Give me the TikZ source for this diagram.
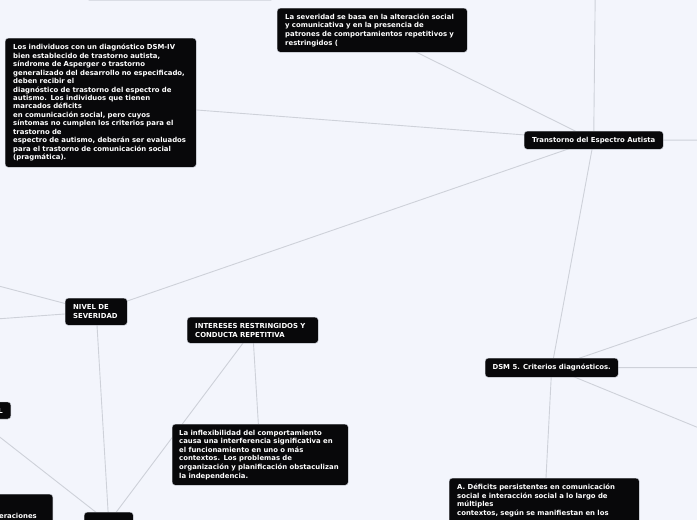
\documentclass[tikz,border=0pt]{standalone}
\usepackage{fontspec}
\setmainfont{DejaVu Sans}
\usetikzlibrary{backgrounds}
\definecolor{bgc}{RGB}{243,245,252}
\definecolor{edgec}{RGB}{206,209,217}
\definecolor{boxc}{RGB}{8,8,10}
\definecolor{boxrim}{RGB}{190,193,202}
\newcommand\ml[1]{\mbox{#1}}
\tikzset{
  box/.style={rectangle, rounded corners=3pt, fill=boxc, draw=boxrim, line width=0.4pt,
    text=white, font=\fontsize{6.9}{8.6}\selectfont\bfseries, align=left,
    inner xsep=8pt, inner ysep=0pt, anchor=north west},
  link/.style={draw=edgec, line width=0.9pt}
}
\begin{document}
\begin{tikzpicture}[x=1pt,y=-1pt]
\begin{pgfonlayer}{background}
\fill[bgc] (0,0) rectangle (697,520);
\end{pgfonlayer}
\useasboundingbox (0,0) rectangle (697,520);

% faint box just above the top edge
\draw[draw=edgec, fill=bgc, rounded corners=3pt] (87,-40) rectangle (273,0.6);

% nodes
\node[box, minimum width=191pt, minimum height=129pt, text width=175pt,
      font=\fontsize{6.9}{8.45}\selectfont\bfseries] (indiv) at (5,38) {%
\ml{Los individuos con un diagnóstico DSM-IV}\\
\ml{bien establecido de trastorno autista,}\\
\ml{síndrome de Asperger o trastorno}\\
\ml{generalizado del desarrollo no especificado,}\\
\ml{deben recibir el}\\
\ml{diagnóstico de trastorno del espectro de}\\
\ml{autismo. Los individuos que tienen}\\
\ml{marcados déficits}\\
\ml{en comunicación social, pero cuyos}\\
\ml{síntomas no cumplen los criterios para el}\\
\ml{trastorno de}\\
\ml{espectro de autismo, deberán ser evaluados}\\
\ml{para el trastorno de comunicación social}\\
\ml{(pragmática).}};

\node[box, minimum width=190pt, minimum height=44pt, text width=174pt] (sev) at (277,8) {%
\ml{La severidad se basa en la alteración social}\\
\ml{y comunicativa y en la presencia de}\\
\ml{patrones de comportamientos repetitivos y}\\
\ml{restringidos (}};

\node[box, minimum width=139pt, minimum height=18pt, inner xsep=0pt] (tea) at (524,131)
  {Transtorno del Espectro Autista};

\node[box, minimum width=62pt, minimum height=27pt, text width=46pt] (nivel) at (65,298) {%
\ml{NIVEL DE}\\ \ml{SEVERIDAD}};

\node[box, minimum width=131pt, minimum height=26pt, text width=115pt] (inter) at (187,317) {%
\ml{INTERESES RESTRINGIDOS Y}\\ \ml{CONDUCTA REPETITIVA}};

\node[box, minimum width=176pt, minimum height=61pt, text width=162pt, inner xsep=7pt] (inflex) at (172,424) {%
\ml{La inflexibilidad del comportamiento}\\
\ml{causa una interferencia significativa en}\\
\ml{el funcionamiento en uno o más}\\
\ml{contextos. Los problemas de}\\
\ml{organización y planificación obstaculizan}\\
\ml{la independencia.}};

\node[box, minimum width=133pt, minimum height=19pt, inner xsep=0pt] (dsm) at (485,358)
  {DSM 5. Criterios diagnósticos.};

\node[box, minimum width=190pt, text width=174pt, inner ysep=6pt] (defic) at (449,478) {%
\ml{A. Déficits persistentes en comunicación}\\
\ml{social e interacción social a lo largo de}\\
\ml{múltiples}\\
\ml{contextos, según se manifiestan en los}\\
~\\ ~\\ ~};

% partial boxes at the edges
\node[box, anchor=east, minimum width=90pt, minimum height=17pt, text width=74pt, align=right] (ipart) at (11,410.5) {L};
\node[box, anchor=north east, minimum width=150pt, minimum height=60pt, text width=118pt, align=right,
      inner xsep=16pt, inner ysep=15pt] (jpart) at (53,494) {eraciones\\ ~\\ ~};
\node[box, minimum width=49pt, minimum height=20pt] (kpart) at (84,512) {};

% free ends of connectors leaving the frame
\coordinate (cTop) at (596,-80);
\coordinate (cRight) at (760,140);
\coordinate (dL1) at (-100,260);
\coordinate (dL2) at (-100,326);
\coordinate (g1) at (760,296);
\coordinate (g2) at (760,367.5);
\coordinate (g3) at (760,453);

\begin{pgfonlayer}{background}
\draw[link] (tea.center) -- (indiv.center);
\draw[link] (tea.center) -- (sev.center);
\draw[link] (tea.center) -- (cTop);
\draw[link] (tea.center) -- (cRight);
\draw[link] (tea.center) -- (nivel.center);
\draw[link] (tea.center) -- (dsm.center);
\draw[link] (nivel.center) -- (dL1);
\draw[link] (nivel.center) -- (dL2);
\draw[link] (nivel.center) -- (kpart.center);
\draw[link] (inter.center) -- (inflex.center);
\draw[link] (inter.center) -- (kpart.center);
\draw[link] (ipart.center) -- (kpart.center);
\draw[link] (dsm.center) -- (g1);
\draw[link] (dsm.center) -- (g2);
\draw[link] (dsm.center) -- (g3);
\draw[link] (dsm.center) -- (defic.center);
\end{pgfonlayer}
\end{tikzpicture}
\end{document}
